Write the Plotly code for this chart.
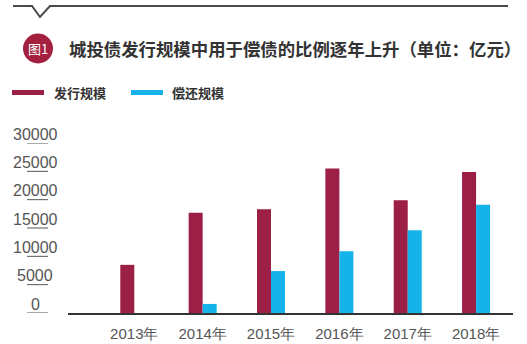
import plotly.graph_objects as go

# ---- data ----
years = ["2013年", "2014年", "2015年", "2016年", "2017年", "2018年"]
issue = [8500, 17700, 18300, 25500, 19900, 24900]
repay = [None, 1600, 7400, 10900, 14600, 19100]
ytick_vals = [0, 5000, 10000, 15000, 20000, 25000, 30000]
ytick_text = ["0", "5000", "10000", "15000", "20000", "25000", "30000"]
series_names = ["发行规模", "偿还规模"]
title_text = "城投债发行规模中用于偿债的比例逐年上升（单位：亿元）"

W, H = 527, 344
ML, MR, MT, MB = 68, 14, 143, 31
PW, PH = W - ML - MR, H - MT - MB

def px(x):
    return (x - ML) / PW

def py(y):
    return (H - MB - y) / PH

RED = "#9c1f45"
BLUE = "#15b3ea"
CJK = "Noto Sans CJK SC"
NUM = "Liberation Sans, Arial, sans-serif"

xs = list(range(len(years)))
fig = go.Figure()
fig.add_trace(go.Bar(x=xs, y=issue, name=series_names[0], marker_color=RED, marker_line_width=0))
fig.add_trace(go.Bar(x=xs, y=repay, name=series_names[1], marker_color=BLUE, marker_line_width=0))

shapes = []
annotations = []

# y tick labels with short underlines
for v, t in zip(ytick_vals, ytick_text):
    shapes.append(dict(type="line", xref="paper", yref="y", x0=px(27), x1=px(48), y0=v, y1=v,
                       line=dict(color="#555555", width=1)))
    annotations.append(dict(xref="paper", yref="y", x=px(35), y=v, text=t, showarrow=False,
                            xanchor="center", yanchor="middle", yshift=9,
                            font=dict(family=NUM, size=16, color="#555555")))

# top rule with V notch
shapes.append(dict(type="path", xref="paper", yref="paper",
                   path=f"M {px(13)},{py(6)} L {px(32)},{py(6)} L {px(40)},{py(17)} L {px(50)},{py(6)} L {px(508)},{py(6)}",
                   line=dict(color="#4a4a4a", width=2)))

# icon circle
shapes.append(dict(type="circle", xref="paper", yref="paper",
                   x0=px(23), x1=px(53), y0=py(63.5), y1=py(33.5),
                   fillcolor="#a3203f", line=dict(width=0)))
annotations.append(dict(xref="paper", yref="paper", x=px(38), y=py(48.5), text="图1", showarrow=False,
                        xanchor="center", yanchor="middle",
                        font=dict(family=CJK, size=13, color="white")))

# title
annotations.append(dict(xref="paper", yref="paper", x=px(67), y=py(48), text=title_text, showarrow=False,
                        xanchor="left", yanchor="middle",
                        font=dict(family=CJK, size=17.4, color="#333333", weight="bold")))

# legend
for (x0, x1, tx), col, name in zip([(12, 44, 52), (131, 163, 170)], [RED, BLUE], series_names):
    shapes.append(dict(type="rect", xref="paper", yref="paper", x0=px(x0), x1=px(x1),
                       y0=py(95), y1=py(90), fillcolor=col, line=dict(width=0)))
    annotations.append(dict(xref="paper", yref="paper", x=px(tx), y=py(92.5), text=name, showarrow=False,
                            xanchor="left", yanchor="middle",
                            font=dict(family=CJK, size=13, color="#333333", weight="bold")))

fig.update_layout(
    width=W, height=H,
    margin=dict(l=ML, r=MR, t=MT, b=MB, pad=0, autoexpand=False),
    paper_bgcolor="white", plot_bgcolor="white",
    barmode="group", bargap=0.59, bargroupgap=0,
    showlegend=False,
    shapes=shapes, annotations=annotations,
    xaxis=dict(range=[-0.97, 5.54], tickvals=xs, ticktext=years, showgrid=False, zeroline=False,
               showline=True, linecolor="#333333", linewidth=1.5, ticks="", automargin=False,
               ticklabelstandoff=6,
               tickfont=dict(family=NUM, size=15, color="#555555")),
    yaxis=dict(range=[0, 30000], showticklabels=False, showgrid=False, zeroline=False, showline=False,
               ticks="", automargin=False),
)

fig.write_html("out.html")
